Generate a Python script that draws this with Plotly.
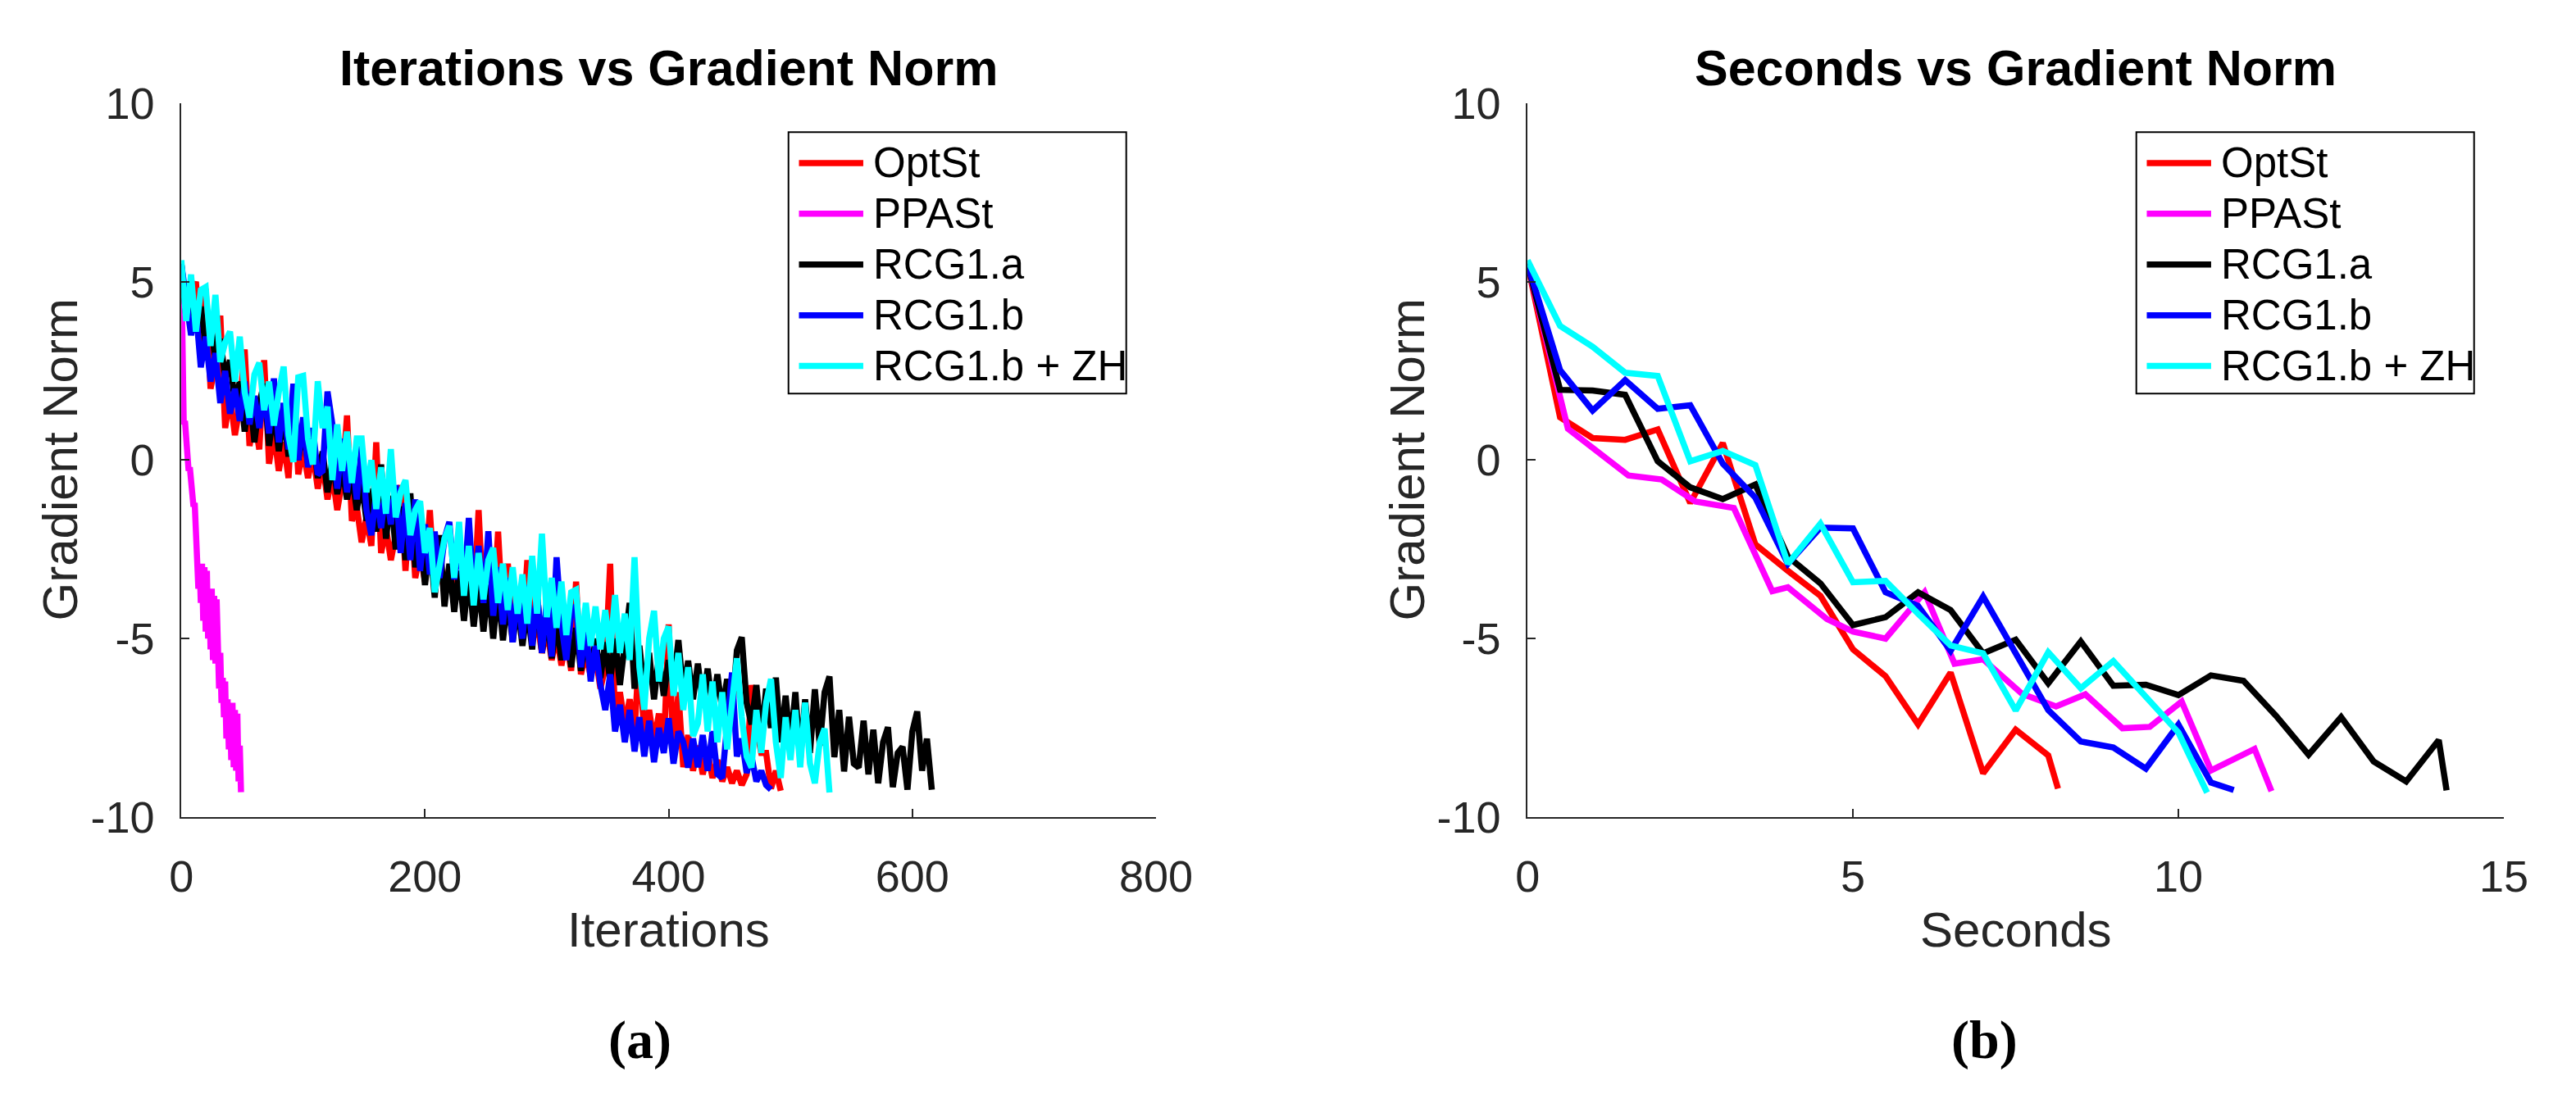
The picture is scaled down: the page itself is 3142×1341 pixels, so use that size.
import plotly.graph_objects as go

W, H = 3142, 1341
FONT = "Liberation Sans, Arial, sans-serif"
AX = "#262626"
LW = 7.5

names = ["OptSt", "PPASt", "RCG1.a", "RCG1.b", "RCG1.b + ZH"]
colors = ["#FF0000", "#FF00FF", "#000000", "#0000FF", "#00FFFF"]

# y ticks use a plain hyphen, as MATLAB does
y_ticks = [-10, -5, 0, 5, 10]
y_ticktext = ["-10", "-5", "0", "5", "10"]

iter_step = 4
optst_it = [
    5.5, 4.2, 4.6, 5.0, 3.0, 4.8, 2.0, 2.7, 4.05, 0.9,
    1.8, 0.7, 1.5, 3.1, 0.4, 1.2, 0.3, 2.8, -0.1, 0.8,
    -0.3, 0.5, -0.5, 2.1, -0.4, 0.3, -0.5, 0.2, -0.8, -0.1,
    -1.1, -0.4, -1.4, -0.6, 1.25, -1.7, -1.3, -2.3, -1.6, -2.4,
    0.5, -2.6, -1.9, -2.8, -2.1, -0.7, -3.1, -1.1, -3.3, -2.6,
    -3.4, -1.4, -3.6, -2.9, -3.7, -3.0, -3.8, -3.2, -4.0, -3.3,
    -4.1, -1.4, -4.2, -3.5, -4.4, -2.0, -4.5, -2.9, -4.6, -4.0,
    -4.9, -2.8, -5.1, -4.5, -5.4, -4.7, -5.6, -4.9, -5.75, -5.0,
    -5.9, -3.4, -6.0, -5.4, -6.05, -5.5, -6.4, -5.8, -2.9, -7.3,
    -6.5, -7.4, -6.7, -7.6, -5.3, -7.8, -7.0, -7.9, -7.1, -8.1,
    -4.6, -8.4, -6.5, -8.6, -7.7, -8.7, -8.0, -8.8, -8.2, -8.9,
    -8.4, -9.0, -8.6, -9.05, -8.7, -9.1, -8.8, -6.3, -7.5, -8.2,
    -8.2, -9.2, -8.7, -9.26,
]
ppast_it = [
    5.5, 2.5, 1.0, 1.1, 0.5, 0.2, -0.3, -0.2, -0.7, -0.6,
    -1.3, -1.2, -1.8, -2.9, -3.6, -2.9, -4.0, -2.9, -4.5, -3.0,
    -4.8, -3.1, -5.0, -3.6, -5.3, -3.6, -5.6, -3.8, -5.7, -3.9,
    -5.5, -6.4, -5.4, -6.8, -6.1, -7.2, -6.2, -7.8, -6.7, -8.1,
    -6.8, -8.4, -6.8, -8.6, -7.0, -8.7, -7.1, -9.0, -8.0, -9.3,
]
rcg1a_it = [
    5.5, 4.0, 4.6, 3.6, 4.3, 3.2, 3.9, 2.8, 3.4, 2.3,
    2.8, 1.6, 2.2, 0.8, 1.9, 0.5, 1.6, 2.14, 0.4, 1.4,
    0.25, 1.3, 0.1, 1.2, 0.0, 0.9, -0.1, 0.7, -0.5, 0.24,
    -0.9, 0.0, -0.95, -0.2, -1.1, -0.4, -1.4, -0.6, -1.7, -0.8,
    -2.0, -0.12, -2.2, -1.0, -2.5, -1.3, -2.8, -0.93, -3.0, -1.95,
    -3.5, -2.3, -3.85, -2.1, -4.1, -2.9, -4.25, -3.1, -4.5, -3.2,
    -4.66, -3.4, -4.8, -3.5, -5.0, -3.6, -5.05, -3.8, -5.1, -4.0,
    -5.2, -4.1, -5.3, -3.7, -5.4, -4.3, -5.55, -4.5, -5.6, -4.6,
    -5.8, -4.7, -5.9, -4.9, -6.0, -5.0, -6.1, -5.1, -6.2, -5.0,
    -6.3, -5.3, -4.0, -6.4, -5.2, -6.5, -5.4, -6.7, -5.5, -6.6,
    -5.6, -6.3, -5.04, -6.5, -5.62, -6.7, -5.7, -6.8, -5.84, -6.9,
    -6.0, -7.0, -6.13, -7.1, -5.33, -4.96, -6.8, -7.4, -6.3, -7.8,
    -6.4, -7.5, -6.09, -7.9, -6.6, -8.0, -6.5, -8.4, -6.7, -8.2,
    -6.42, -8.0, -6.5, -6.06, -8.32, -7.0, -8.72, -7.19, -8.5, -8.61,
    -7.3, -8.8, -7.55, -9.05, -7.9, -7.48, -9.16, -8.2, -8.03, -9.23,
    -7.6, -7.04, -8.7, -7.8, -9.23,
]
rcg1b_it = [
    5.5, 4.4, 3.5, 4.2, 2.6, 3.46, 2.2, 3.0, 1.6, 2.5,
    1.3, 2.0, 1.1, 2.2, 1.0, 1.8, 0.9, 1.9, 0.75, 2.29,
    0.5, 1.6, 0.3, 2.14, 0.0, 1.2, -0.2, 0.9, -0.4, -0.3,
    1.92, 1.0, -0.8, 0.6, -0.9, 0.2, -1.1, 0.39, -1.4, -2.1,
    -0.9, -1.9, -0.8, -1.8, -0.7, -2.6, -1.2, -2.8, -1.1, -3.1,
    -1.8, -3.2, -2.0, -3.3, -2.2, -1.73, -3.34, -2.3, -3.6, -1.62,
    -3.8, -2.4, -4.0, -1.99, -4.36, -3.0, -4.6, -3.3, -5.1, -3.6,
    -5.0, -3.5, -5.2, -3.7, -5.4, -3.9, -5.5, -2.72, -4.6, -5.6,
    -4.3, -4.07, -5.8, -4.6, -6.2, -5.2, -6.3, -7.0, -6.0, -7.6,
    -6.85, -7.9, -7.0, -8.16, -7.2, -8.3, -7.3, -8.46, -7.5, -8.2,
    -7.23, -8.5, -7.6, -7.9, -8.61, -7.8, -8.6, -7.7, -8.7, -7.59,
    -8.8, -8.9, -7.5, -5.95, -8.3, -7.8, -8.76, -8.3, -9.0, -8.7,
    -9.1, -9.23,
]
rcg1bzh_it = [
    5.6, 3.9, 5.2, 3.6, 4.77, 4.85, 3.2, 4.63, 2.75, 3.3,
    3.6, 2.2, 3.46, 1.9, 1.19, 2.4, 2.73, 1.4, 2.2, 0.97,
    1.9, 2.62, 0.7, -0.05, 2.32, 2.36, 0.6, -0.12, 2.21, 0.9,
    1.5, -0.56, 1.0, -0.3, 0.8, -0.64, 0.61, 0.61, -0.9, 0.0,
    -1.37, -0.2, -1.5, 0.31, -1.6, -0.9, -0.56, -2.1, -1.4, -1.15,
    -2.6, -1.9, -3.7, -3.0, -2.2, -1.84, -3.3, -1.73, -3.8, -2.4,
    -4.07, -2.6, -3.9, -2.8, -2.46, -4.0, -2.9, -4.2, -3.0, -4.3,
    -3.2, -4.58, -2.68, -4.3, -2.06, -4.4, -3.3, -4.7, -3.4, -4.9,
    -3.7, -3.63, -5.31, -4.0, -5.2, -4.1, -5.3, -4.2, -5.39, -3.78,
    -5.4, -4.3, -5.6, -2.72, -5.8, -6.99, -5.0, -4.22, -6.2, -5.0,
    -4.66, -6.6, -5.4, -7.0, -5.8, -7.73, -7.37, -6.0, -7.6, -6.2,
    -7.9, -6.5, -8.1, -6.8, -5.55, -7.2, -8.3, -8.61, -7.0, -8.2,
    -6.8, -6.13, -7.9, -8.9, -7.2, -8.4, -7.0, -8.6, -6.79, -8.5,
    -9.05, -7.9, -7.52, -9.31,
]

# (b) gradient norm vs seconds
optst_t = [0, 0.5, 1, 1.5, 2, 2.5, 3, 3.5, 4, 4.5, 5, 5.5, 6, 6.5, 7, 7.5, 8, 8.15]
optst_s = [5.5, 1.2, 0.62, 0.57, 0.86, -1.2, 0.48, -2.36, -3.1, -3.8, -5.3, -6.05,
           -7.4, -5.95, -8.77, -7.55, -8.27, -9.2]
ppast_t = [0, 0.62, 1.55, 2.06, 2.58, 3.17, 3.76, 4.0, 4.6, 5.0, 5.5, 6.1, 6.56,
           7.0, 7.6, 8.12, 8.57, 9.14, 9.56, 10.05, 10.5, 11.17, 11.43]
ppast_s = [5.5, 0.88, -0.43, -0.54, -1.16, -1.34, -3.67, -3.56, -4.45, -4.8, -5.0,
           -3.7, -5.7, -5.58, -6.55, -6.9, -6.56, -7.51, -7.47, -6.76, -8.69, -8.09, -9.27]
rcg1a_t = [0, 0.5, 1, 1.5, 2, 2.5, 3, 3.5, 4, 4.5, 5, 5.5, 6, 6.5, 7, 7.5, 8, 8.5,
           9, 9.5, 10, 10.5, 11, 11.5, 12, 12.5, 13, 13.5, 14, 14.12]
rcg1a_s = [5.5, 1.97, 1.95, 1.83, -0.03, -0.76, -1.09, -0.68, -2.7, -3.45, -4.62,
           -4.4, -3.7, -4.2, -5.41, -5.03, -6.25, -5.08, -6.32, -6.29, -6.58, -6.03,
           -6.18, -7.16, -8.25, -7.2, -8.44, -9.0, -7.84, -9.25]
rcg1b_t = [0, 0.5, 1, 1.5, 2, 2.5, 3, 3.5, 4, 4.5, 5, 5.5, 6, 6.5, 7, 7.5, 8, 8.5,
           9, 9.5, 10, 10.5, 10.85]
rcg1b_s = [5.5, 2.52, 1.39, 2.24, 1.44, 1.54, -0.1, -1.05, -2.9, -1.89, -1.91, -3.7,
           -4.08, -5.34, -3.82, -5.44, -7.0, -7.88, -8.05, -8.64, -7.41, -9.03, -9.24]
rcg1bzh_t = [0, 0.5, 1, 1.5, 2, 2.5, 3, 3.5, 4, 4.5, 5, 5.5, 6, 6.5, 7, 7.5, 8, 8.5,
             9, 9.5, 10, 10.44]
rcg1bzh_s = [5.6, 3.76, 3.18, 2.45, 2.36, -0.03, 0.26, -0.14, -2.9, -1.78, -3.42,
             -3.38, -4.3, -5.19, -5.41, -7.01, -5.38, -6.39, -5.63, -6.65, -7.63, -9.31]

iter_series = [optst_it, ppast_it, rcg1a_it, rcg1b_it, rcg1bzh_it]
iter_steps = [iter_step, 1, iter_step, iter_step, iter_step]
sec_series = [(optst_t, optst_s), (ppast_t, ppast_s), (rcg1a_t, rcg1a_s),
              (rcg1b_t, rcg1b_s), (rcg1bzh_t, rcg1bzh_s)]


def px(x):
    return x / W


def py(y):
    return 1 - y / H


fig = go.Figure()

for name, color, vals, step in zip(names, colors, iter_series, iter_steps):
    fig.add_trace(go.Scatter(x=[i * step for i in range(len(vals))], y=vals,
                             mode="lines", name=name, line=dict(color=color, width=LW),
                             xaxis="x", yaxis="y", showlegend=False))

for name, color, (t, s) in zip(names, colors, sec_series):
    fig.add_trace(go.Scatter(x=t, y=s, mode="lines", name=name,
                             line=dict(color=color, width=LW),
                             xaxis="x2", yaxis="y2", showlegend=False))

axis_style = dict(showline=True, linecolor=AX, linewidth=1.5, ticks="inside",
                  ticklen=10, tickwidth=1.5, tickcolor=AX, showgrid=False,
                  zeroline=False, fixedrange=True,
                  tickfont=dict(family=FONT, size=54, color=AX))
ydom = [py(1004), py(92)]

fig.update_layout(
    width=W, height=H, margin=dict(l=0, r=0, t=0, b=0),
    paper_bgcolor="white", plot_bgcolor="white",
    xaxis=dict(axis_style, domain=[px(202), px(1414)], range=[0, 800],
               tickvals=[0, 200, 400, 600, 800], anchor="y", ticklabelstandoff=24),
    yaxis=dict(axis_style, domain=ydom, range=[-10, 10],
               tickvals=y_ticks, ticktext=y_ticktext, anchor="x", ticklabelstandoff=20),
    xaxis2=dict(axis_style, domain=[px(1876), px(3090)], range=[0, 15],
                tickvals=[0, 5, 10, 15], anchor="y2", ticklabelstandoff=24),
    yaxis2=dict(axis_style, domain=ydom, range=[-10, 10],
                tickvals=y_ticks, ticktext=y_ticktext, anchor="x2", ticklabelstandoff=20),
)

annotations = []
shapes = []
panels = [
    dict(cx=808, title="Iterations vs Gradient Norm", xlabel="Iterations",
         ylab_x=51, tag="(a)", tag_x=772, leg_x=957),
    dict(cx=2483, title="Seconds vs Gradient Norm", xlabel="Seconds",
         ylab_x=1726, tag="(b)", tag_x=2444, leg_x=2633),
]
for p in panels:
    annotations.append(dict(x=px(p["cx"]), y=py(47), xref="paper", yref="paper",
                            text="<b>" + p["title"] + "</b>", showarrow=False,
                            xanchor="center", yanchor="middle",
                            font=dict(family=FONT, size=61, color="black")))
    annotations.append(dict(x=px(p["cx"]), y=py(1148), xref="paper", yref="paper",
                            text=p["xlabel"], showarrow=False,
                            xanchor="center", yanchor="middle",
                            font=dict(family=FONT, size=60, color=AX)))
    annotations.append(dict(x=px(p["ylab_x"]), y=py(548), xref="paper", yref="paper",
                            text="Gradient Norm", showarrow=False, textangle=-90,
                            xanchor="center", yanchor="middle",
                            font=dict(family=FONT, size=60, color=AX)))
    annotations.append(dict(x=px(p["tag_x"]), y=py(1289), xref="paper", yref="paper",
                            text="<b>" + p["tag"] + "</b>", showarrow=False,
                            xanchor="center", yanchor="middle",
                            font=dict(family="Liberation Serif, Times New Roman, serif",
                                      size=66, color="black")))
    # legend box
    lx = p["leg_x"]
    shapes.append(dict(type="rect", xref="paper", yref="paper",
                       x0=px(lx), x1=px(lx + 420), y0=py(463), y1=py(129),
                       line=dict(color="black", width=2), fillcolor="white"))
    for k, (name, color) in enumerate(zip(names, colors)):
        yk = 168.5 + k * 64.8
        shapes.append(dict(type="line", xref="paper", yref="paper",
                           x0=px(lx + 13), x1=px(lx + 93), y0=py(yk), y1=py(yk),
                           line=dict(color=color, width=LW)))
        annotations.append(dict(x=px(lx + 103), y=py(yk), xref="paper", yref="paper",
                                text=name, showarrow=False, xanchor="left",
                                yanchor="middle",
                                font=dict(family=FONT, size=51, color="black")))

fig.update_layout(annotations=annotations, shapes=shapes)

fig.write_html("out.html")
